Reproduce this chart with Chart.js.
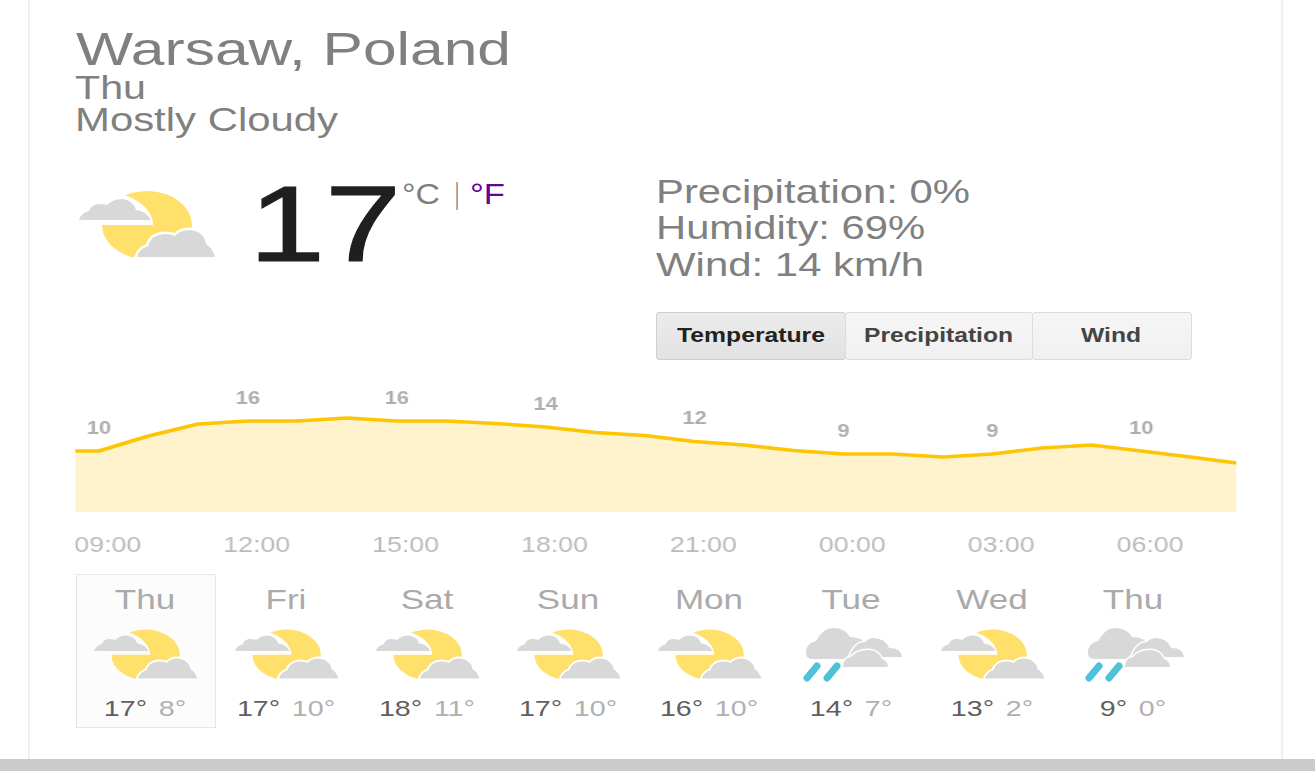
<!DOCTYPE html>
<html><head><meta charset="utf-8">
<script src="https://cdn.jsdelivr.net/npm/chart.js@4"></script>
<style>
html,body{margin:0;padding:0;background:#fff;width:1315px;height:771px;overflow:hidden;font-family:"Liberation Sans",Arial,sans-serif}
.t{position:absolute;white-space:pre;line-height:normal;transform-origin:0 0}
.c{text-align:center;transform-origin:50% 0}
.edge{position:absolute;top:0;width:2px;height:759px;background:#efefef}
.btn{position:absolute;top:312px;height:46px;border:1px solid #dcdcdc;border-radius:3px;background:linear-gradient(#f6f6f6,#f0f0f0);box-sizing:content-box}
svg{position:absolute;overflow:visible}
</style></head><body>
<div class="edge" style="left:28px"></div>
<div class="edge" style="left:1281px"></div>
<div style="position:absolute;left:0;top:759px;width:1315px;height:12px;background:#cbcbcb"></div>
<div style="position:absolute;left:76px;top:574px;width:138px;height:152px;background:#fcfcfc;border:1px solid #e6e6e6"></div>
<div class="btn" style="left:656px;width:188px;background:linear-gradient(#ececec,#e2e2e2);border-color:#cfcfcf"></div>
<div class="btn" style="left:845px;width:186px"></div>
<div class="btn" style="left:1032px;width:158px"></div>
<div id="chartWrap" style="position:absolute;left:0;top:380px;transform-origin:0 0"><canvas id="chart"></canvas></div>
<svg width="0" height="0"><defs>
<clipPath id="sunClip"><path d="M43 0V5Q70 14 74 33V36H0V70H54L62 60H137V0Z"/></clipPath>
<symbol id="partly" viewBox="0 0 137 70" preserveAspectRatio="none">
<ellipse cx="68" cy="36" rx="45" ry="34" fill="#ffe06b" clip-path="url(#sunClip)"/>
<path d="M0 31Q2 24 10 22Q13 14 23 15Q26 15 28 16Q34 10 43 10Q54 11 57 21Q67 22 72 31Z" fill="#d8d8d8"/>
<path d="M58 68Q60 60 69 57Q72 46 85 45Q92 45 96 47Q101 41 110 41Q125 42 127 55Q134 60 136 68Z" fill="#d8d8d8" stroke="#fff" stroke-width="5" paint-order="stroke"/>
</symbol>
<symbol id="rain" viewBox="0 0 100 54" preserveAspectRatio="none">
<path d="M3 25Q3 15 13 13Q20 0 30 0Q42 0 47 9Q54 9 60 12L45 31L10 31Q3 31 3 25Z" fill="#d8d8d8"/>
<path d="M46 29Q52 14 62 14Q66 10 70 10Q82 10 86 20Q98 20 99 29Z" fill="#d8d8d8" stroke="#fff" stroke-width="3" paint-order="stroke"/>
<path d="M40 39Q40 30 48 29Q54 22 65 22Q75 22 79 31Q85 33 85 39Z" fill="#d8d8d8" stroke="#fff" stroke-width="3" paint-order="stroke"/>
<path d="M4 50L14 38M24 50L34 38" stroke="#4fc1d9" stroke-width="7" stroke-linecap="round" fill="none"/>
</symbol>
</defs></svg>
<script>
// ---- data ----
const hours = [-0.48,0,1,2,3,4,5,6,7,8,9,10,11,12,13,14,15,16,17,18,19,20,21,22,22.92];
const temps = [10,10,13,15.4,16,16,16.6,16,16,15.5,14.8,13.7,13.1,11.9,11.2,10.1,9.4,9.4,8.8,9.4,10.6,11.2,10,8.8,7.6];
const labelHours = [0,3,6,9,12,15,18,21];
const labelTemps = ["10","16","16","14","12","9","9","10"];
const tickLabels = ["09:00","12:00","15:00","18:00","21:00","00:00","03:00","06:00"];
const days = ["Thu","Fri","Sat","Sun","Mon","Tue","Wed","Thu"];
const highs = [17,17,18,17,16,14,13,9];
const lows = [8,10,11,10,10,7,2,0];
const icons = ["partly","partly","partly","partly","partly","rain","partly","rain"];

// ---- chart ----
const K = 1.218, H = 190, LEFT = 75, RIGHT = 1236, TOP = 22, AXIS = 58;
const wrap = document.getElementById('chartWrap');
wrap.style.transform = 'scaleX(' + K + ')';
const cv = document.getElementById('chart');
cv.width = Math.round(1315 / K); cv.height = H;

const tempLabels = {
  id: 'tempLabels',
  afterDatasetsDraw(chart) {
    const {ctx, scales: {x, y}} = chart;
    ctx.save();
    ctx.font = 'bold 18px "Liberation Sans"';
    ctx.fillStyle = '#aeaeae';
    ctx.textAlign = 'center'; ctx.textBaseline = 'middle';
    labelHours.forEach((h, i) => {
      ctx.fillText(labelTemps[i], x.getPixelForValue(h), y.getPixelForValue(temps[hours.indexOf(h)]) - 22);
    });
    ctx.restore();
  }
};

new Chart(cv, {
  type: 'line',
  data: { datasets: [{
    data: hours.map((h, i) => ({x: h, y: temps[i]})),
    borderColor: '#fec503', borderWidth: 3.5, backgroundColor: '#fef3cd',
    fill: 'start', pointRadius: 0, tension: 0, borderJoinStyle: 'round'
  }]},
  options: {
    responsive: false, animation: false, devicePixelRatio: 1,
    layout: {padding: {left: LEFT / K, right: (1315 - RIGHT) / K, top: TOP, bottom: 0}},
    plugins: {legend: {display: false}, tooltip: {enabled: false}},
    scales: {
      x: {
        type: 'linear', min: hours[0], max: hours[hours.length - 1],
        grid: {display: false}, border: {display: false},
        afterBuildTicks(s) { s.ticks = labelHours.map(v => ({value: v})); },
        afterFit(s) { s.height = AXIS; },
        ticks: {
          autoSkip: false, maxRotation: 0, padding: 13, labelOffset: 9 / K,
          color: '#bababa', font: {family: '"Liberation Sans"', size: 22},
          callback: (v) => tickLabels[labelHours.indexOf(v)]
        }
      },
      y: {display: false, min: -2.2, max: 19.8}
    }
  },
  plugins: [tempLabels]
});

// ---- page text ----
function put(text, x, base, size, color, weight, w) {
  const e = document.createElement('div');
  e.className = 't'; e.textContent = text;
  e.style.cssText = `left:${x}px;top:${base - size * 0.9215}px;font-size:${size}px;color:${color};font-weight:${weight || 400}`;
  document.body.appendChild(e);
  if (w) e.style.transform = `scaleX(${w / e.getBoundingClientRect().width})`;
  return e;
}
const G = '#808080';
put('Warsaw, Poland', 76, 64, 47, G, 400, 435);
put('Thu', 75, 99, 33, G, 400, 71);
put('Mostly Cloudy', 75, 131, 33, G, 400, 263);
put('17', 248.5, 261, 108, '#1f1f1f', 400, 152).style.webkitTextStroke = '1.2px #1f1f1f';
put('°C', 402, 205, 29, G, 400, 38);
put('|', 455, 205, 29, G, 400, 4);
put('°F', 470, 205, 29, '#660099', 400, 35);
put('Precipitation: 0%', 656, 203, 33, G, 400, 314);
put('Humidity: 69%', 656, 239, 33, G, 400, 269);
put('Wind: 14 km/h', 656, 276, 33, G, 400, 268);
put('Temperature', 677, 342, 20, '#222', 700, 148);
put('Precipitation', 864, 342, 20, '#444', 700, 149);
put('Wind', 1081, 342, 20, '#444', 700, 60);

// ---- forecast strip ----
const COL0 = 145, COLW = 141.1, SX = 1.25, SXT = 1.3;
function use(id, x, y, w, h) {
  const s = document.createElementNS('http://www.w3.org/2000/svg', 'svg');
  s.setAttribute('width', w); s.setAttribute('height', h);
  s.style.left = x + 'px'; s.style.top = y + 'px';
  const u = document.createElementNS('http://www.w3.org/2000/svg', 'use');
  u.setAttribute('href', '#' + id); u.setAttribute('width', w); u.setAttribute('height', h);
  s.appendChild(u); document.body.appendChild(s);
}
use('partly', 79, 189, 137, 70);
days.forEach((d, i) => {
  const c = COL0 + i * COLW;
  const a = put(d, c - 70, 610, 28, '#aaaaaa');
  a.classList.add('c'); a.style.width = '140px'; a.style.transform = `scaleX(${SX})`;
  const b = put('', c - 70, 716, 22, '#5f5f5f');
  b.classList.add('c'); b.style.width = '140px'; b.style.transform = `scaleX(${SXT})`;
  const hi = document.createElement('span'); hi.textContent = highs[i] + '°';
  const lo = document.createElement('span'); lo.textContent = lows[i] + '°';
  lo.style.cssText = 'color:#b0b0b0;margin-left:9px';
  b.append(hi, lo);
  if (icons[i] === 'partly') use('partly', c - 51, 628, 104, 52);
  else use('rain', c - 48, 628, 100, 54);
});
</script>
</body></html>
